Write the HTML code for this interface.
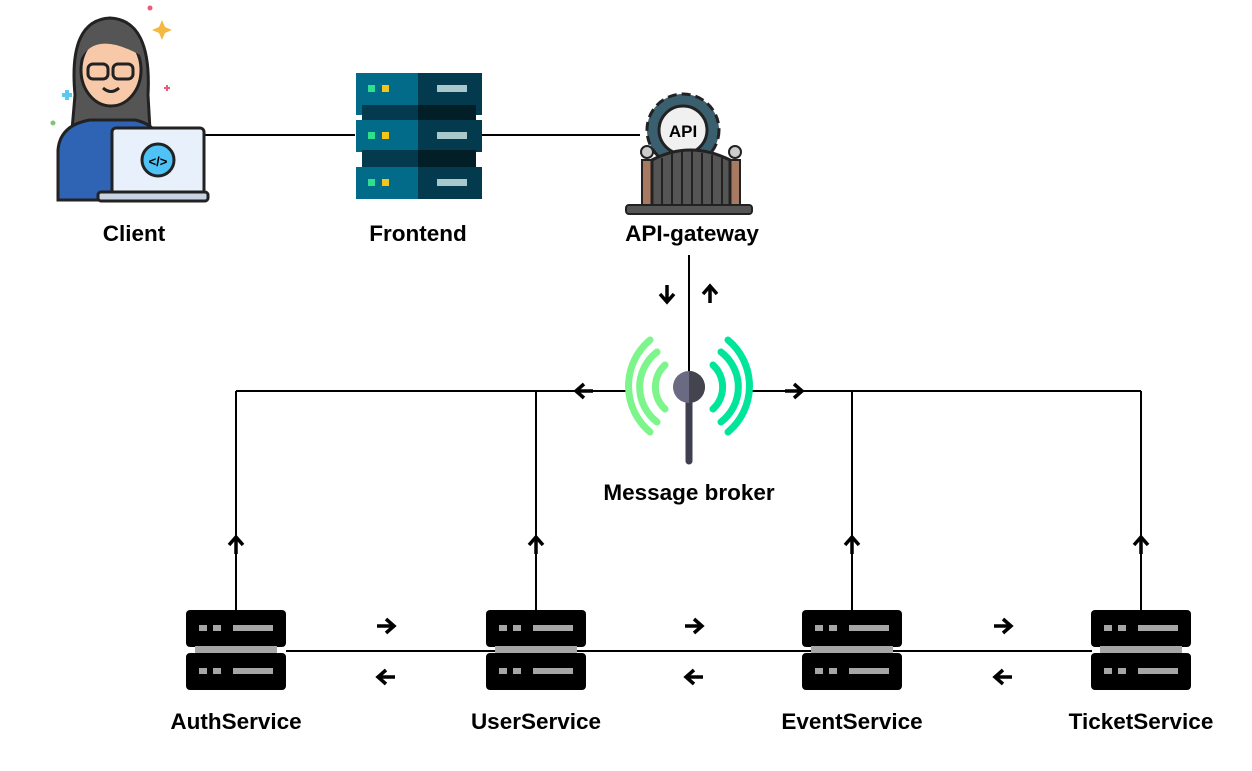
<!DOCTYPE html>
<html><head><meta charset="utf-8"><style>
html,body{margin:0;padding:0;background:#fff;}
svg{display:block;}
text{font-family:"Liberation Sans",sans-serif;font-weight:bold;font-size:22.5px;fill:#000;text-anchor:middle;}
</style></head><body>
<svg width="1252" height="771" viewBox="0 0 1252 771" xmlns="http://www.w3.org/2000/svg">
<defs>
<g id="srv">
<rect x="0" y="0" width="100" height="37" rx="4" fill="#000"/>
<rect x="9" y="36" width="82" height="8" fill="#a6a6a6"/>
<rect x="0" y="43" width="100" height="37" rx="4" fill="#000"/>
<rect x="13" y="15" width="8" height="6" fill="#a6a6a6"/><rect x="27" y="15" width="8" height="6" fill="#a6a6a6"/><rect x="47" y="15" width="40" height="6" fill="#a6a6a6"/>
<rect x="13" y="58" width="8" height="6" fill="#a6a6a6"/><rect x="27" y="58" width="8" height="6" fill="#a6a6a6"/><rect x="47" y="58" width="40" height="6" fill="#a6a6a6"/>
</g>
<g id="ar"><path d="M-9 0 H6" stroke="#000" stroke-width="3.5" fill="none"/><path d="M0 -7 L8 0 L0 7" stroke="#000" stroke-width="3.5" fill="none"/></g>
</defs>

<g stroke="#000" stroke-width="2" fill="none">
<line x1="205" y1="135" x2="355" y2="135"/>
<line x1="482" y1="135" x2="640" y2="135"/>
<line x1="689" y1="255" x2="689" y2="372"/>
<line x1="236" y1="391" x2="626" y2="391"/>
<line x1="752" y1="391" x2="1141" y2="391"/>
<line x1="236" y1="391" x2="236" y2="612"/>
<line x1="536" y1="391" x2="536" y2="612"/>
<line x1="852" y1="391" x2="852" y2="612"/>
<line x1="1141" y1="391" x2="1141" y2="612"/>
<line x1="286" y1="651" x2="1092" y2="651"/>
</g>

<use href="#ar" transform="translate(667,294) rotate(90)"/>
<use href="#ar" transform="translate(710,294) rotate(-90)"/>
<use href="#ar" transform="translate(584,391) rotate(180)"/>
<use href="#ar" transform="translate(794,391)"/>
<use href="#ar" transform="translate(236,545) rotate(-90)"/>
<use href="#ar" transform="translate(536,545) rotate(-90)"/>
<use href="#ar" transform="translate(852,545) rotate(-90)"/>
<use href="#ar" transform="translate(1141,545) rotate(-90)"/>
<use href="#ar" transform="translate(386,626)"/><use href="#ar" transform="translate(386,677) rotate(180)"/>
<use href="#ar" transform="translate(694,626)"/><use href="#ar" transform="translate(694,677) rotate(180)"/>
<use href="#ar" transform="translate(1003,626)"/><use href="#ar" transform="translate(1003,677) rotate(180)"/>

<use href="#srv" x="186" y="610"/>
<use href="#srv" x="486" y="610"/>
<use href="#srv" x="802" y="610"/>
<use href="#srv" x="1091" y="610"/>

<g>
<path d="M75 95 Q68 20 110 18 Q152 20 148 95 L150 130 L72 130 Z" fill="#555" stroke="#222" stroke-width="3"/>
<ellipse cx="111" cy="70" rx="30" ry="36" fill="#f8c9a8" stroke="#222" stroke-width="3"/>
<path d="M80 60 Q95 30 140 55 L140 40 Q110 15 82 40 Z" fill="#555"/>
<rect x="88" y="64" width="20" height="15" rx="5" fill="none" stroke="#222" stroke-width="3"/>
<rect x="113" y="64" width="20" height="15" rx="5" fill="none" stroke="#222" stroke-width="3"/>
<path d="M103 88 Q111 95 119 88" stroke="#222" stroke-width="3" fill="none"/>
<path d="M58 200 L58 150 Q60 125 90 120 L135 120 Q160 125 160 150 L160 200 Z" fill="#2f63b4" stroke="#222" stroke-width="3"/>
<rect x="112" y="128" width="92" height="66" rx="4" fill="#e8f0fb" stroke="#222" stroke-width="3"/>
<rect x="98" y="192" width="110" height="9" rx="3" fill="#c8d4e4" stroke="#222" stroke-width="3"/>
<circle cx="158" cy="160" r="16" fill="#4fc3f7" stroke="#222" stroke-width="3"/>
<text x="158" y="166" style="font-size:13px">&lt;/&gt;</text>
<path d="M162 20 l3 7 7 3 -7 3 -3 7 -3 -7 -7 -3 7 -3z" fill="#f5b942"/>
<circle cx="150" cy="8" r="2.5" fill="#ee5a7a"/>
<path d="M62 95 h10 M67 90 v10" stroke="#5bc8f0" stroke-width="4"/>
<circle cx="53" cy="123" r="2.5" fill="#7bc96f"/>
<path d="M164 88 h6 M167 85 v6" stroke="#ee5a7a" stroke-width="2"/>
</g>
<text x="134" y="241">Client</text>

<g>
<rect x="356" y="73" width="62" height="42" fill="#036b8a"/><rect x="418" y="73" width="64" height="42" fill="#043a4d"/>
<rect x="362" y="105" width="56" height="18" fill="#043a4d"/><rect x="418" y="105" width="58" height="18" fill="#021e26"/>
<rect x="356" y="120" width="62" height="32" fill="#036b8a"/><rect x="418" y="120" width="64" height="32" fill="#043a4d"/>
<rect x="362" y="150" width="56" height="18" fill="#043a4d"/><rect x="418" y="150" width="58" height="18" fill="#021e26"/>
<rect x="356" y="167" width="62" height="32" fill="#036b8a"/><rect x="418" y="167" width="64" height="32" fill="#043a4d"/>
<g fill="#2de08c"><rect x="368" y="85" width="7" height="7"/><rect x="368" y="132" width="7" height="7"/><rect x="368" y="179" width="7" height="7"/></g>
<g fill="#f5c518"><rect x="382" y="85" width="7" height="7"/><rect x="382" y="132" width="7" height="7"/><rect x="382" y="179" width="7" height="7"/></g>
<g fill="#a8c8cc"><rect x="437" y="85" width="30" height="7"/><rect x="437" y="132" width="30" height="7"/><rect x="437" y="179" width="30" height="7"/></g>
</g>
<text x="418" y="241">Frontend</text>

<g>
<circle cx="683" cy="130" r="36" fill="#3a6070" stroke="#222" stroke-width="3" stroke-dasharray="9 5"/>
<circle cx="683" cy="130" r="24" fill="#f0f0f0" stroke="#222" stroke-width="3"/>
<text x="683" y="137" style="font-size:17px">API</text>
<rect x="642" y="160" width="10" height="50" fill="#a87a62" stroke="#222" stroke-width="2"/>
<rect x="730" y="160" width="10" height="50" fill="#a87a62" stroke="#222" stroke-width="2"/>
<circle cx="647" cy="152" r="6" fill="#ccc" stroke="#222" stroke-width="2"/>
<circle cx="735" cy="152" r="6" fill="#ccc" stroke="#222" stroke-width="2"/>
<path d="M652 210 L652 160 Q690 140 730 160 L730 210 Z" fill="#555" stroke="#222" stroke-width="3"/>
<g stroke="#222" stroke-width="2"><line x1="662" y1="158" x2="662" y2="205"/><line x1="672" y1="153" x2="672" y2="205"/><line x1="682" y1="151" x2="682" y2="205"/><line x1="692" y1="151" x2="692" y2="205"/><line x1="702" y1="153" x2="702" y2="205"/><line x1="712" y1="155" x2="712" y2="205"/><line x1="722" y1="158" x2="722" y2="205"/></g>
<rect x="626" y="205" width="126" height="9" rx="3" fill="#555" stroke="#222" stroke-width="2"/>
</g>
<text x="692" y="241">API-gateway</text>

<g fill="none" stroke-width="7" stroke-linecap="round">
<path d="M665 365 A30 30 0 0 0 665 409" stroke="#7cf58a"/>
<path d="M657 352 A44 44 0 0 0 657 422" stroke="#7cf58a"/>
<path d="M650 340 A60 60 0 0 0 650 432" stroke="#7cf58a"/>
<path d="M713 365 A30 30 0 0 1 713 409" stroke="#00e59a"/>
<path d="M721 352 A44 44 0 0 1 721 422" stroke="#00e59a"/>
<path d="M728 340 A60 60 0 0 1 728 432" stroke="#00e59a"/>
</g>
<line x1="689" y1="395" x2="689" y2="461" stroke="#3f3f4f" stroke-width="7" stroke-linecap="round"/>
<circle cx="689" cy="387" r="16" fill="#6a6a82"/>
<path d="M689 371 A16 16 0 0 1 689 403 Z" fill="#44444f"/>
<text x="689" y="500">Message broker</text>

<text x="236" y="729">AuthService</text>
<text x="536" y="729">UserService</text>
<text x="852" y="729">EventService</text>
<text x="1141" y="729">TicketService</text>
</svg>
</body></html>
